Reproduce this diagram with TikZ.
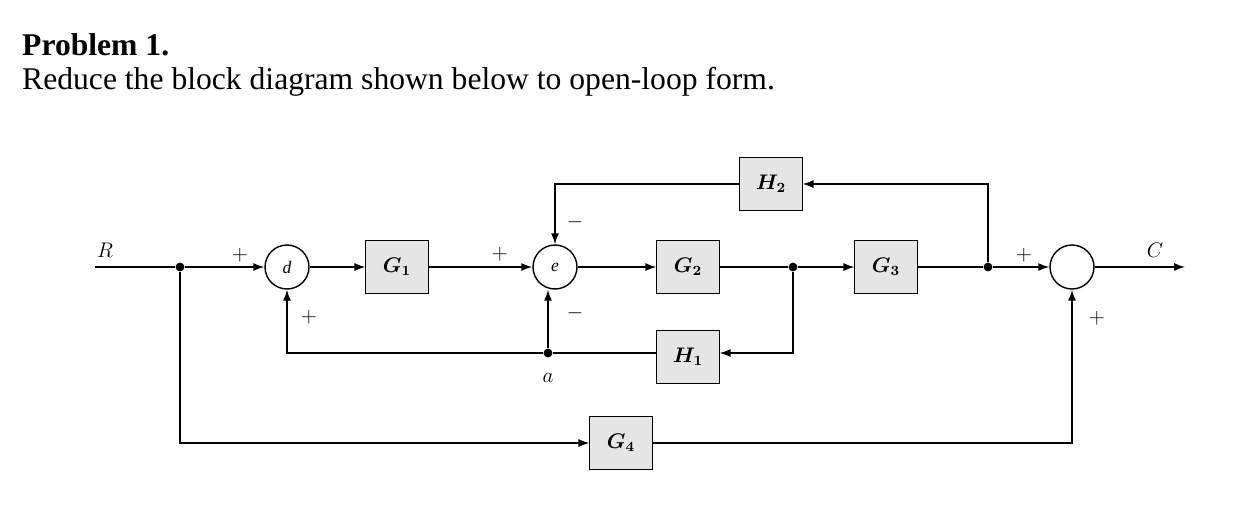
\documentclass[tikz,border=0pt]{standalone}
\usepackage{amsmath}
\usepackage{fontspec}
\setmainfont{Liberation Serif}
\usetikzlibrary{arrows.meta,calc}
\tikzstyle{block} = [rectangle, draw=black, fill=gray!20, minimum width=1.25cm, minimum height=1.05cm, font=\large\boldmath]
\tikzstyle{sum} = [circle, draw=black, thick, minimum size=0.88cm, inner sep=0pt, font=\normalsize\itshape]
\tikzstyle{arrow} = [thick,-{Latex[length=2.2mm,width=1.6mm]}]
\tikzstyle{line} = [thick]
\tikzstyle{dot} = [circle, fill=black, inner sep=0pt, minimum size=5pt]
\tikzstyle{sign} = [font=\large]

\begin{document}
\begin{tikzpicture}[x=0.02cm,y=-0.02cm]
\useasboundingbox (0,0) rectangle (1252,508);
\node[anchor=west, font=\fontsize{18}{21}\selectfont\bfseries] at (16,45) {Problem 1.};
\node[anchor=west, font=\fontsize{18}{21}\selectfont] at (16,82) {Reduce the block diagram shown below to open-loop form.};

% nodes
\coordinate (in) at (95,267);
\node (R) at (105,250) {\large$R$};
\node (jR) [dot] at (180,267) {};
\node (d) [sum] at (287,267) {d};
\node (G1) [block] at (397,267) {$G_1$};
\node (e) [sum] at (555,267) {e};
\node (G2) [block] at (688,267) {$G_2$};
\node (j2) [dot] at (793,267) {};
\node (G3) [block] at (886,267) {$G_3$};
\node (j3) [dot] at (988,267) {};
\node (s) [sum] at (1072,267) {};
\coordinate (out) at (1185,267);
\node (C) at (1155,250) {\large$C$};
\node (H2) [block] at (771,184) {$H_2$};
\node (H1) [block] at (688,357) {$H_1$};
\node (ja) [dot] at (548,353) {};
\node (la) at (548,378) {\large$a$};
\node (G4) [block] at (621,443) {$G_4$};

% forward path
\draw [line] (in) -- (jR);
\draw [arrow] (jR) -- (d);
\draw [arrow] (d) -- (G1);
\draw [arrow] (G1) -- (e);
\draw [arrow] (e) -- (G2);
\draw [line] (G2) -- (j2);
\draw [arrow] (j2) -- (G3);
\draw [line] (G3) -- (j3);
\draw [arrow] (j3) -- (s);
\draw [arrow] (s) -- (out);

% feedback loops
\draw [arrow] (j3) |- (H2);
\draw [arrow] (H2.west) -| (e.north);
\draw [arrow] (j2) |- (H1.east |- ja);
\draw [line] (H1.west |- ja) -- (ja);
\draw [arrow] (ja) -- (ja |- e.south);
\draw [arrow] (ja) -| (d.south);
\draw [arrow] (jR) |- (G4);
\draw [arrow] (G4) -| (s.south);

% signs
\node[sign] at (240,255) {$+$};
\node[sign] at (309,317) {$+$};
\node[sign] at (500,254) {$+$};
\node[sign] at (575,222) {$-$};
\node[sign] at (575,313) {$-$};
\node[sign] at (1024,255) {$+$};
\node[sign] at (1097,318) {$+$};
\end{tikzpicture}
\end{document}
